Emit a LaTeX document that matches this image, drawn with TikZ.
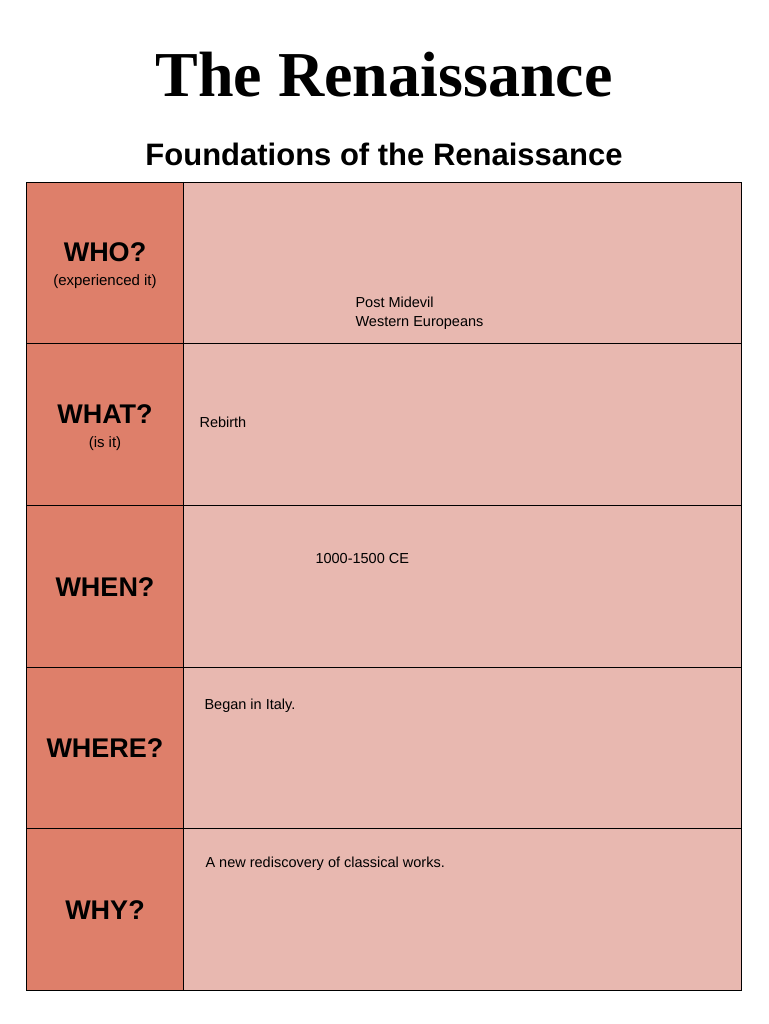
\documentclass[tikz,border=0pt]{standalone}
\usepackage{fontspec}
\setmainfont{Liberation Sans}
\newfontfamily\titlefont{Liberation Serif}
\definecolor{lcol}{HTML}{DE7F6A}
\definecolor{rcol}{HTML}{E8B8B0}
\begin{document}
\begin{tikzpicture}[x=1pt,y=-1pt,
 lab/.style={font=\bfseries\fontsize{27}{30}\selectfont},
 sub/.style={font=\fontsize{15}{18}\selectfont},
 body/.style={font=\fontsize{14.5}{19}\selectfont,anchor=west,align=left}]
\useasboundingbox (0,0) rectangle (768,1024);
\fill[white] (0,0) rectangle (768,1024);
\node[font=\titlefont\bfseries\fontsize{64}{70}\selectfont] (title) at (384,75) {The Renaissance};
\node[font=\bfseries\fontsize{31}{36}\selectfont] (subtitle) at (384,154) {Foundations of the Renaissance};
\foreach \t/\b in {182/343,343/505,505/667,667/828,828/990}{
  \fill[lcol] (26,\t) rectangle (183,\b);
  \fill[rcol] (183,\t) rectangle (741,\b);
}
\draw[black,line width=0.8pt] (26,182) rectangle (741,990);
\draw[black,line width=0.8pt] (183,182) -- (183,990);
\foreach \y in {343,505,667,828}{\draw[black,line width=0.8pt] (26,\y) -- (741,\y);}
\node[lab] (who) at (105,252) {WHO?};
\node[sub] (whos) at (105,282) {(experienced it)};
\node[lab] (what) at (105,414) {WHAT?};
\node[sub] (whats) at (105,444) {(is it)};
\node[lab] (when) at (105,587) {WHEN?};
\node[lab] (where) at (105,748) {WHERE?};
\node[lab] (why) at (105,910) {WHY?};
\node[body] (a1) at (352,313) {Post Midevil\\Western Europeans};
\node[body] (a2) at (196,422) {Rebirth};
\node[body] (a3) at (312,559) {1000-1500 CE};
\node[body] (a4) at (201,706) {Began in Italy.};
\node[body] (a5) at (202,864) {A new rediscovery of classical works.};
\end{tikzpicture}
\end{document}
